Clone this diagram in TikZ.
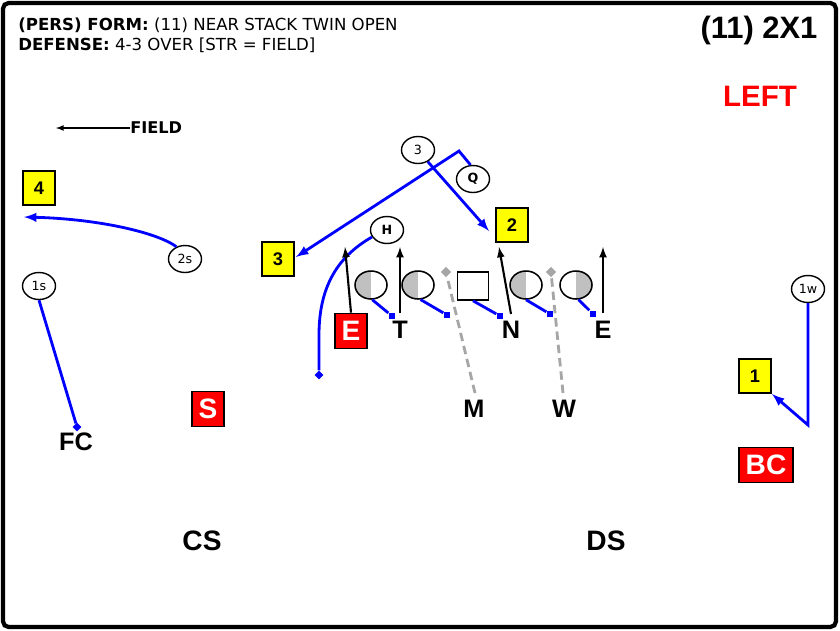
\documentclass[tikz,border=0pt]{standalone}
\usepackage{fontspec}
\setmainfont{DejaVu Sans}
\newfontfamily\arl{Liberation Sans}
\usetikzlibrary{arrows,shapes.geometric}
\definecolor{ylw}{RGB}{255,255,0}
\definecolor{rd}{RGB}{255,0,0}
\definecolor{bl}{RGB}{0,0,255}
\definecolor{gry}{RGB}{166,166,166}
\definecolor{lgry}{RGB}{192,192,192}

\begin{document}
\begin{tikzpicture}[x=0.25mm,y=-0.25mm,
    plr/.style={draw,ellipse,line width=1pt,minimum width=8.25mm,minimum height=6.75mm,inner sep=0pt,font=\fontsize{9}{9}\selectfont},
    ol/.style={draw,ellipse,line width=1.1pt,minimum width=8mm,minimum height=7mm,inner sep=0pt},
    lgray/.style={path picture={\fill[lgry] (path picture bounding box.south west) rectangle (path picture bounding box.north);}},
    rgray/.style={path picture={\fill[lgry] (path picture bounding box.south) rectangle (path picture bounding box.north east);}},
    ybox/.style={draw,fill=ylw,line width=1.2pt,minimum width=8mm,minimum height=8.5mm,inner sep=0pt,font=\arl\bfseries\fontsize{13}{13}\selectfont},
    rbox/.style={draw,fill=rd,text=white,line width=1.2pt,minimum width=8mm,minimum height=8.75mm,inner sep=1pt,font=\arl\bfseries\fontsize{20}{20}\selectfont},
    dlab/.style={inner sep=0pt,font=\arl\bfseries\fontsize{18}{18}\selectfont},
    route/.style={draw=bl,line width=2pt},
    blk/.style={fill=bl,rectangle,minimum size=1.7mm,inner sep=0pt},
    tip/.style={fill=bl,diamond,minimum size=2.2mm,inner sep=0pt},
    gtip/.style={fill=gry,diamond,minimum size=2.6mm,inner sep=0pt},
    drop/.style={draw=gry,line width=2pt,dash pattern=on 6pt off 3.5pt},
    rush/.style={draw,line width=1.5pt,-latex}]
    \useasboundingbox (0,0) rectangle (840,630);
    \draw[line width=3pt,rounded corners=4pt] (3,3) rectangle (836,627);
    \node[anchor=base west,inner sep=0pt,font=\fontsize{11.8}{11.8}\selectfont] (form) at (18,30) {\textbf{(PERS) FORM:} (11) NEAR STACK TWIN OPEN};
    \node[anchor=base west,inner sep=0pt,font=\fontsize{11.8}{11.8}\selectfont] (def) at (18,50) {\textbf{DEFENSE:} 4-3 OVER [STR = FIELD]};
    \node[font=\arl\bfseries\fontsize{22}{22}\selectfont] (set) at (759,30) {(11) 2X1};
    \node[text=rd,font=\arl\bfseries\fontsize{21}{21}\selectfont] (side) at (760,96) {LEFT};
    \node[anchor=west,inner sep=0pt,font=\bfseries\fontsize{11.5}{11.5}\selectfont] (fld) at (130,128) {FIELD};
    \coordinate (fldend) at (56,128);
    \draw[-latex,line width=0.9pt] (fld.west) -- (fldend);

    \node[plr] (w1s) at (39,286) {1s};
    \node[plr] (w2s) at (185,259) {2s};
    \node[plr] (w3) at (418,150) {3};
    \node[plr] (qb) at (473,179) {\textbf{Q}};
    \node[plr] (hb) at (387,230) {\textbf{H}};
    \node[plr] (w1w) at (808,289) {1w};

    \node[ol,lgray] (lt) at (371,285) {};
    \node[ol,lgray] (lg) at (418,285) {};
    \node[draw,line width=1.1pt,minimum width=7.75mm,minimum height=7mm,inner sep=0pt] (c) at (473,286) {};
    \node[ol,lgray] (rg) at (526,285) {};
    \node[ol,rgray] (rt) at (576,285) {};

    \node[ybox] (n1) at (755,376) {1};
    \node[ybox] (n2) at (512,225) {2};
    \node[ybox] (n3) at (278,259) {3};
    \node[ybox] (n4) at (39,188) {4};

    \node[rbox] (de) at (351,331) {E};
    \node[rbox] (ss) at (208,409) {S};
    \node[rbox,minimum width=13.5mm] (bc) at (766,465) {BC};
    \node[dlab] (dt) at (400,330) {T};
    \node[dlab] (dn) at (511,330) {N};
    \node[dlab] (dee) at (603,330) {E};
    \node[dlab] (mk) at (474,409) {M};
    \node[dlab] (wk) at (564,409) {W};
    \node[dlab] (fc) at (76,442) {FC};
    \node[dlab,font=\arl\bfseries\fontsize{20}{20}\selectfont] (cs) at (202,541) {CS};
    \node[dlab,font=\arl\bfseries\fontsize{20}{20}\selectfont] (ds) at (606,541) {DS};

    \coordinate (r4) at (24,217);
    \draw[route,-latex] (w2s.125) .. controls (158,233) and (100,219) .. (r4);
    \node[tip] (e1s) at (77,427) {};
    \draw[route] (w1s.south) -- (e1s);
    \coordinate (qk) at (459,151);
    \coordinate (r3) at (296,257);
    \draw[route,-latex] (qb.100) -- (qk) -- (r3);
    \coordinate (r2) at (489,231);
    \draw[route,-latex] (w3.-50) -- (r2);
    \node[tip] (eh) at (319,375) {};
    \draw[route] (hb.205) .. controls (335,258) and (319,290) .. (319,335) -- (eh);
    \coordinate (k1w) at (808,425);
    \coordinate (r1) at (772,394);
    \draw[route,-latex] (w1w.south) -- (k1w) -- (r1);

    \node[blk] (blt) at (392,316) {};
    \node[blk] (blg) at (447,315) {};
    \node[blk] (bc0) at (500,316) {};
    \node[blk] (brg) at (550,314) {};
    \node[blk] (brt) at (593,314) {};
    \draw[route] (lt.-85) -- (blt);
    \draw[route] (lg.-80) -- (blg);
    \draw[route] (c.south) -- (bc0);
    \draw[route] (rg.-90) -- (brg);
    \draw[route] (rt.-80) -- (brt);

    \coordinate (pe) at (345,247);
    \coordinate (tb) at (400,313);
    \coordinate (pt) at (400,247);
    \coordinate (nb) at (511,314);
    \coordinate (pn) at (499,247);
    \coordinate (eb) at (603,313);
    \coordinate (pee) at (603,247);
    \draw[rush] (de.north) -- (pe);
    \draw[rush] (tb) -- (pt);
    \draw[rush] (nb) -- (pn);
    \draw[rush] (eb) -- (pee);

    \coordinate (mb) at (475,393);
    \coordinate (wb) at (563,393);
    \node[gtip] (gm) at (446,272) {};
    \node[gtip] (gw) at (551,272) {};
    \draw[drop] (mb) -- (gm);
    \draw[drop] (wb) -- (gw);
\end{tikzpicture}
\end{document}
